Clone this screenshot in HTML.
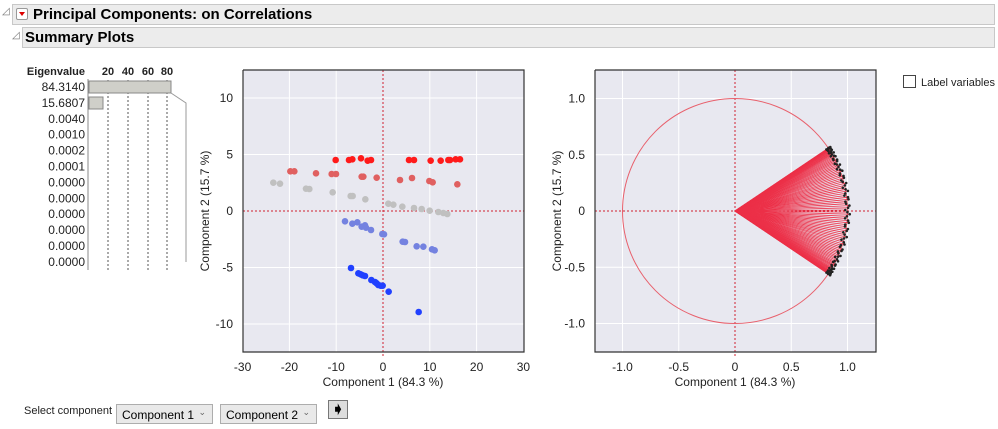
<!DOCTYPE html>
<html><head><meta charset="utf-8"><style>
body{margin:0;width:998px;height:429px;background:#fff;font-family:"Liberation Sans",sans-serif;overflow:hidden;position:relative}
.bar{position:absolute;background:#ececec;border:1px solid #c8c8c8;font-weight:bold;font-size:15px;box-sizing:border-box}
.dd{position:absolute;top:404px;height:20px;border:1px solid #adadad;background:#e9e9e9;font-size:12px;box-sizing:border-box;padding:3px 0 0 5px}
.dd span{position:absolute;right:6px;top:2px;font-size:9px;color:#666}
</style></head><body>
<div style="position:absolute;left:2px;top:6px;font-size:10px;color:#777">◿</div>
<div class="bar" style="left:12px;top:4px;width:983px;height:21px;padding:1px 0 0 20px">Principal Components: on Correlations</div>
<div style="position:absolute;left:16px;top:8px;width:12px;height:12px;border:1px solid #999;background:#fff;border-radius:2px;box-sizing:border-box"><div style="margin:3px 0 0 2px;width:0;height:0;border-left:3px solid transparent;border-right:3px solid transparent;border-top:4px solid #d00"></div></div>
<div style="position:absolute;left:12px;top:30px;font-size:10px;color:#777">◿</div>
<div class="bar" style="left:22px;top:27px;width:973px;height:21px;padding:1px 0 0 2px">Summary Plots</div>
<div class="dd" style="left:116px;width:97px">Component 1<span>⌄</span></div>
<div class="dd" style="left:220px;width:97px">Component 2<span>⌄</span></div>
<div style="position:absolute;left:328px;top:400px;width:20px;height:19px;border:1px solid #777;background:#ddd;box-sizing:border-box;font-size:15px;font-weight:bold;text-align:center;line-height:17px">➧</div>
<svg id="s" width="998" height="429" style="position:absolute;left:0;top:0" font-family="Liberation Sans, sans-serif"></svg>
<script>
var s='';
function t(x,y,str,a,sz,w,extra){s+='<text x="'+x+'" y="'+y+'" font-size="'+(sz||12)+'" text-anchor="'+(a||'middle')+'" fill="#222"'+(w?' font-weight="bold"':'')+(extra||'')+'>'+str+'</text>';}
t(85,75,'Eigenvalue','end',11,1);
[[20,108],[40,128],[60,148],[80,167]].forEach(function(p){t(p[1],75,p[0],'middle',11,1);s+='<line x1="'+p[1]+'" y1="80" x2="'+p[1]+'" y2="270" stroke="#555" stroke-dasharray="2,2"/>';});
s+='<line x1="88" y1="79" x2="88" y2="270" stroke="#888"/>';
var ev=['84.3140','15.6807','0.0040','0.0010','0.0002','0.0001','0.0000','0.0000','0.0000','0.0000','0.0000','0.0000'];
ev.forEach(function(v,i){t(85,91+i*15.9,v,'end',12);});
s+='<rect x="89" y="81" width="82" height="12" fill="#cfcfc9" stroke="#888"/><rect x="89" y="97" width="14" height="12" fill="#cfcfc9" stroke="#888"/>';
s+='<polyline points="171,93 186,103 186,262" fill="none" stroke="#999"/>';
function frame(x0,x1){s+='<rect x="'+x0+'" y="70" width="'+(x1-x0)+'" height="282" fill="#e8e8f0"/>';}
frame(243,524);
for(var v=-30;v<=30;v+=10){var x=383+4.68*v;if(v>-30&&v<30&&v!=0)s+='<line x1="'+x+'" y1="70" x2="'+x+'" y2="352" stroke="#fff"/>';t(x,371,v,'middle',12);}
for(var v=-10;v<=10;v+=5){var y=211-11.3*v;if(v!=0)s+='<line x1="243" y1="'+y+'" x2="524" y2="'+y+'" stroke="#fff"/>';t(233,y+4,v,'end',12);}
s+='<line x1="243" y1="211" x2="524" y2="211" stroke="#d02030" stroke-dasharray="2,2"/><line x1="383" y1="70" x2="383" y2="357" stroke="#d02030" stroke-dasharray="2,2"/>';
s+='<polyline points="243,70 524,70 524,352 243,352 243,70" fill="none" stroke="#333" stroke-width="1.2"/>';
t(383,386,'Component 1  (84.3 %)','middle',12);
t(0,0,'Component 2  (15.7 %)','middle',12,0,' transform="translate(209,211) rotate(-90)"');
var groups=[['#ff1a1a',[[317,300],[357,300],[367,298],[393,295],[413,302],[423,300],[537,300],[552,300],[602,302],[632,302],[655,300],[660,300],[677,298],[690,298]]],
['#e06060',[[181,334],[193,334],[258,340],[305,342],[318,342],[395,350],[400,350],[440,353],[510,360],[546,354],[598,363],[608,367],[682,373]]],
['#c0c0c0',[[130,368],[150,371],[228,386],[238,387],[308,397],[362,408],[368,408],[406,418],[475,431],[490,434],[517,440],[552,444],[575,447],[599,452],[625,456],[640,459],[652,462]]],
['#7482e0',[[345,484],[367,491],[382,487],[395,500],[405,496],[408,503],[423,510],[457,522],[462,523],[518,545],[525,546],[560,559],[580,560],[606,568],[614,571]]],
['#2040ff',[[363,624],[385,640],[392,643],[398,646],[405,648],[424,660],[435,666],[440,670],[445,675],[452,677],[458,677],[476,695],[566,756]]]];
groups.forEach(function(g){g[1].forEach(function(p){s+='<circle cx="'+(230+p[0]/3)+'" cy="'+(60+p[1]/3)+'" r="3.3" fill="'+g[0]+'"/>';});});
frame(595,876);
var cx=735,cy=211,k=112.5;
[-1,-0.5,0,0.5,1].forEach(function(v){var x=cx+k*v;if(v!=0)s+='<line x1="'+x+'" y1="70" x2="'+x+'" y2="352" stroke="#fff"/>';t(x,371,v==0?'0':v.toFixed(1),'middle',12);
var y=cy-k*v;if(v!=0)s+='<line x1="595" y1="'+y+'" x2="876" y2="'+y+'" stroke="#fff"/>';t(585,y+4,v==0?'0':v.toFixed(1),'end',12);});
s+='<line x1="595" y1="211" x2="876" y2="211" stroke="#d02030" stroke-dasharray="2,2"/><line x1="735" y1="70" x2="735" y2="357" stroke="#d02030" stroke-dasharray="2,2"/>';
s+='<circle cx="735" cy="211" r="112.5" fill="none" stroke="#e8606c" stroke-width="1"/>';
var ends='';
for(var i=0;i<100;i++){var u=i/99*2-1;var f=Math.sin(u*Math.PI/2);var a=(34*f)*Math.PI/180;var r=1.0+0.02*Math.cos(i*1.7);var x=cx+k*r*Math.cos(a),y=cy-k*r*Math.sin(a);
s+='<line x1="735" y1="211" x2="'+x.toFixed(1)+'" y2="'+y.toFixed(1)+'" stroke="#ec3048" stroke-width="0.8"/>';ends+='<circle cx="'+x.toFixed(1)+'" cy="'+y.toFixed(1)+'" r="1.3" fill="#222"/>';}
s+=ends;
s+='<polyline points="595,70 876,70 876,352 595,352 595,70" fill="none" stroke="#333" stroke-width="1.2"/>';
t(735,386,'Component 1  (84.3 %)','middle',12);
t(0,0,'Component 2  (15.7 %)','middle',12,0,' transform="translate(561,211) rotate(-90)"');
s+='<rect x="903.5" y="75.5" width="12" height="12" fill="#fff" stroke="#444"/>';
t(921,86,'Label variables','start',11);
t(24,414,'Select component','start',11);
document.getElementById('s').innerHTML=s;
</script>
</body></html>
